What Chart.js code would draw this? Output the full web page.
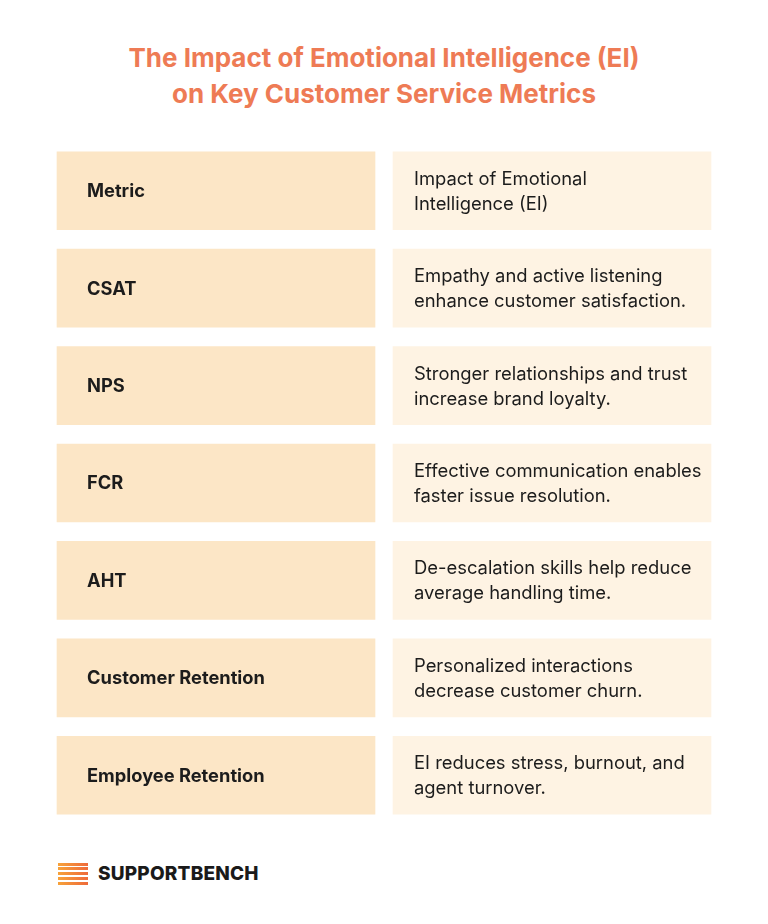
<!DOCTYPE html>
<html><head><meta charset="utf-8">
<script src="https://cdn.jsdelivr.net/npm/chart.js@4"></script>
<style>
body{margin:0;width:768px;height:924px;background:#fff;font-family:Inter,sans-serif;position:relative;overflow:hidden}
h1{position:absolute;top:40px;left:0;width:768px;margin:0;text-align:center;color:#EE7B55;font-size:26px;line-height:36px;font-weight:700}
#wrap{position:absolute;left:0;top:142px;width:768px;height:682px}
.logo{position:absolute;left:58px;top:862px;display:flex;align-items:center}
.ic{width:30px;height:22px;display:flex;flex-direction:column;justify-content:space-between;margin-right:10px}
.ic div{height:3px;background:linear-gradient(90deg,#F7A23A,#EE6A3A)}
.logo span{font-weight:800;font-size:19px;color:#1a1a1a;letter-spacing:0.2px}
</style></head><body>
<h1>The Impact of Emotional Intelligence (EI)<br>on Key Customer Service Metrics</h1>
<div id="wrap"><canvas id="c"></canvas></div>
<div class="logo"><div class="ic"><div></div><div></div><div></div><div></div><div></div></div><span>SUPPORTBENCH</span></div>
<script>
const metrics=["Metric","CSAT","NPS","FCR","AHT","Customer Retention","Employee Retention"];
const impacts=[["Impact of Emotional","Intelligence (EI)"],["Empathy and active listening","enhance customer satisfaction."],["Stronger relationships and trust","increase brand loyalty."],["Effective communication enables","faster issue resolution."],["De-escalation skills help reduce","average handling time."],["Personalized interactions","decrease customer churn."],["EI reduces stress, burnout, and","agent turnover."]];
const leftSpan=[57,375], rightSpan=[393,711];
const textPlugin={id:'txt',afterDatasetsDraw(ch){
  const ctx=ch.ctx;ctx.save();ctx.textBaseline='middle';ctx.fillStyle='#1c1c1c';
  ch.getDatasetMeta(0).data.forEach((b,i)=>{ctx.font='700 18.3px Inter';ctx.fillText(metrics[i],ch.scales.x.getPixelForValue(87),b.y+1);});
  ch.getDatasetMeta(1).data.forEach((b,i)=>{ctx.font='400 18.4px Inter';const L=impacts[i];L.forEach((t,j)=>ctx.fillText(t,ch.scales.x.getPixelForValue(414),b.y+1+(j-(L.length-1)/2)*25));});
  ctx.restore();}};
new Chart(document.getElementById('c'),{type:'bar',
 data:{labels:metrics,datasets:[
  {data:metrics.map(()=>leftSpan),backgroundColor:'#FCE6C6',barThickness:78,grouped:false},
  {data:metrics.map(()=>rightSpan),backgroundColor:'#FEF3E3',barThickness:78,grouped:false}]},
 options:{indexAxis:'y',responsive:true,maintainAspectRatio:false,animation:false,
  layout:{padding:0},
  plugins:{legend:{display:false},tooltip:{enabled:false}},
  scales:{x:{type:'linear',min:0,max:768,display:false},y:{display:false}}},
 plugins:[textPlugin]});
</script></body></html>
